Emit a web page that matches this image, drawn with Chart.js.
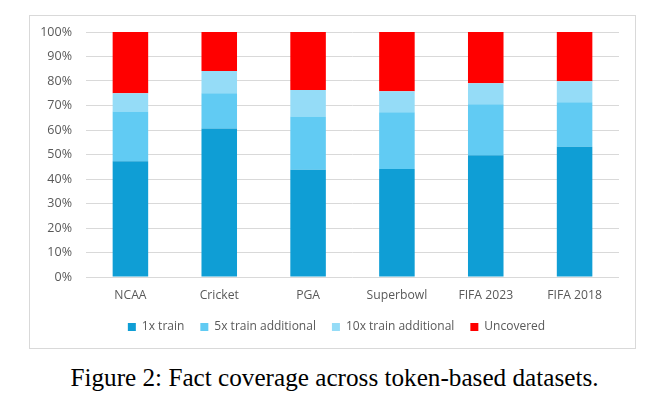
<!DOCTYPE html>
<html>
<head>
<meta charset="utf-8">
<script src="https://cdn.jsdelivr.net/npm/chart.js@4.4.1/dist/chart.umd.min.js"></script>
<style>
  html, body { margin: 0; padding: 0; background: #fff; }
  body { width: 661px; height: 415px; position: relative; overflow: hidden; }
  #box {
    position: absolute; left: 29px; top: 15px; width: 605px; height: 332px;
    border: 1px solid #d9d9d9; box-sizing: content-box;
  }
  #caption {
    position: absolute; left: 4px; width: 661px; top: 364px; text-align: center;
    font-family: "Liberation Serif", "DejaVu Serif", serif; font-size: 25.2px; color: #000;
  }
</style>
</head>
<body>
<div id="box"><canvas id="chart"></canvas></div>
<div id="caption">Figure 2: Fact coverage across token-based datasets.</div>
<script>
// Datos (porcentaje de hechos cubiertos)
const categorias = ['NCAA', 'Cricket', 'PGA', 'Superbowl', 'FIFA 2023', 'FIFA 2018'];
const train1x = [47.2, 60.6, 43.8, 44.1, 49.7, 53.2];
const train5x = [20.4, 14.4, 21.7, 23.1, 20.8, 18.1];
const train10x = [7.4, 9.1, 10.8, 8.6, 8.6, 8.6];
const sinCubrir = [25.0, 15.9, 23.7, 24.2, 20.9, 20.1];
const ticksY = [0, 10, 20, 30, 40, 50, 60, 70, 80, 90, 100];

const fuente = '"Open Sans", "Noto Sans", sans-serif';

// La leyenda de Excel va un poco a la derecha del centro del lienzo
const moverLeyenda = {
    id: 'moverLeyenda',
    afterLayout(chart) {
        chart.legend.left += 12;
        chart.legend.right += 12;
    }
};

const ctx = document.getElementById('chart').getContext('2d');
new Chart(ctx, {
    type: 'bar',
    data: {
        labels: categorias,
        datasets: [
            { label: '1x train', data: train1x, backgroundColor: '#0f9ed5' },
            { label: '5x train additional', data: train5x, backgroundColor: '#61cbf3' },
            { label: '10x train additional', data: train10x, backgroundColor: '#95dcf7' },
            { label: 'Uncovered', data: sinCubrir, backgroundColor: '#ff0000' }
        ]
    },
    plugins: [moverLeyenda],
    options: {
        responsive: true,
        maintainAspectRatio: false,
        animation: false,
        devicePixelRatio: 1,
        datasets: { bar: { barPercentage: 0.4, categoryPercentage: 1.0 } },
        layout: { padding: { top: 16, right: 16, left: 0, bottom: 5 } },
        plugins: {
            legend: {
                position: 'bottom',
                labels: {
                    boxWidth: 8, boxHeight: 8, padding: 16,
                    color: '#595959', font: { family: fuente, size: 12 }
                }
            },
            tooltip: { enabled: false }
        },
        scales: {
            x: {
                stacked: true,
                grid: { display: false, drawTicks: false },
                border: { display: false },
                afterFit: axis => { axis.height = 28; },
                ticks: { color: '#595959', padding: 11, font: { family: fuente, size: 12.2 } }
            },
            y: {
                stacked: true,
                min: 0, max: 100,
                afterBuildTicks: axis => { axis.ticks = ticksY.map(v => ({ value: v })); },
                afterFit: axis => {
                    axis.width = 56;
                    axis.paddingTop = 0;
                    axis.paddingBottom = 0;
                },
                grid: { color: '#d9d9d9', drawTicks: false },
                border: { display: false },
                ticks: {
                    color: '#595959', padding: 14, font: { family: fuente, size: 12.5 },
                    callback: v => v + '%'
                }
            }
        }
    }
});
</script>
</body>
</html>
